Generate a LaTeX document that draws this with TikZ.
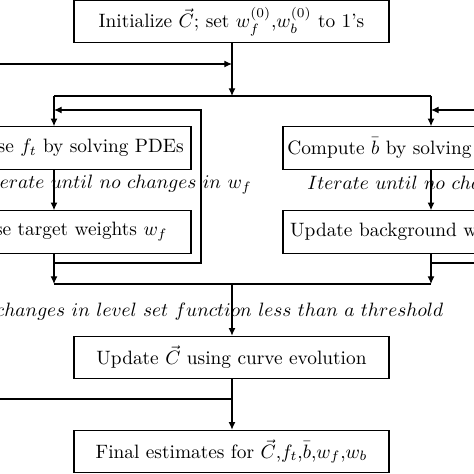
\documentclass[tikz,border=0pt]{standalone}
\usetikzlibrary{arrows.meta}
\tikzset{
  box/.style={draw, line width=0.6pt, minimum height=21.9pt, inner sep=2pt},
  note/.style={inner sep=0pt},
  flow/.style={-{Latex[length=4pt,width=3.6pt]}, line width=0.6pt},
  link/.style={line width=0.6pt},
}
\begin{document}
\begin{tikzpicture}[x=0.517pt,y=-0.517pt]
  \useasboundingbox (0,0) rectangle (474,474);
  \clip (0,0) rectangle (474,474);
  % main column
  \node[box, minimum width=162.9pt] (init) at (231.5,21.5) {Initialize $\vec{C}$; set $w_f^{(0)}$,$w_b^{(0)}$ to 1's};
  \node[box, minimum width=162.9pt] (evolve) at (231.5,357.5) {Update $\vec{C}$ using curve evolution};
  \node[box, minimum width=162.9pt] (final) at (231.5,451.5) {Final estimates for $\vec{C}$,$f_t$,$\bar{b}$,$w_f$,$w_b$};
  % target branch (left)
  \node[box, minimum width=123.6pt] (solvef) at (71.5,148) {Revise $f_t$ by solving PDEs};
  \node[box, minimum width=133.4pt] (weightf) at (62,232) {Revise target weights $w_f$};
  % background branch (right)
  \node[box, minimum width=128.2pt] (solveb) at (407,148) {Compute $\bar{b}$ by solving PDEs};
  \node[box, minimum width=143.8pt] (weightb) at (422,232) {Update background weights $w_b$};
  % column points
  \coordinate (split) at (232,96);
  \coordinate (merge) at (232,284);
  \coordinate (L) at (54,96);
  \coordinate (R) at (431,96);
  \coordinate (Lloop) at (201,110);
  \coordinate (Rloop) at (500,110);
  \coordinate (outer) at (-30,399);
  % iteration notes
  \node[note, anchor=east] (iterf) at (252,185) {$Iterate\ until\ no\ changes\ in\ w_f$};
  \node[note, anchor=west] (iterb) at (307,185) {$Iterate\ until\ no\ changes\ in\ w_b$};
  \node[note, anchor=east] (iterc) at (444,312) {$Iterate\ until\ changes\ in\ level\ set\ function\ less\ than\ a\ threshold$};

  \draw[flow] (init.south -| split) -- (split);
  \draw[link] (L) -- (R);
  \draw[flow] (L) -- (L |- solvef.north);
  \draw[flow] (R) -- (R |- solveb.north);
  \draw[flow] (L |- solvef.south) -- (L |- weightf.north);
  \draw[flow] (R |- solveb.south) -- (R |- weightb.north);
  \draw[flow] (L |- weightf.south) -- (L |- merge);
  \draw[flow] (R |- weightb.south) -- (R |- merge);
  \draw[link] (L |- merge) -- (R |- merge);
  \draw[flow] (merge) -- (merge |- evolve.north);
  \draw[flow] (evolve.south -| split) -- (final.north -| split);
  % inner loops
  \draw[flow] (L |- 0,263) -| (Lloop) -- (L |- Lloop);
  \draw[flow] (R |- 0,263) -| (Rloop) -- (R |- Rloop);
  % outer loop
  \draw[flow] (split |- outer) -- (outer) |- (split |- 0,64);
\end{tikzpicture}
\end{document}
